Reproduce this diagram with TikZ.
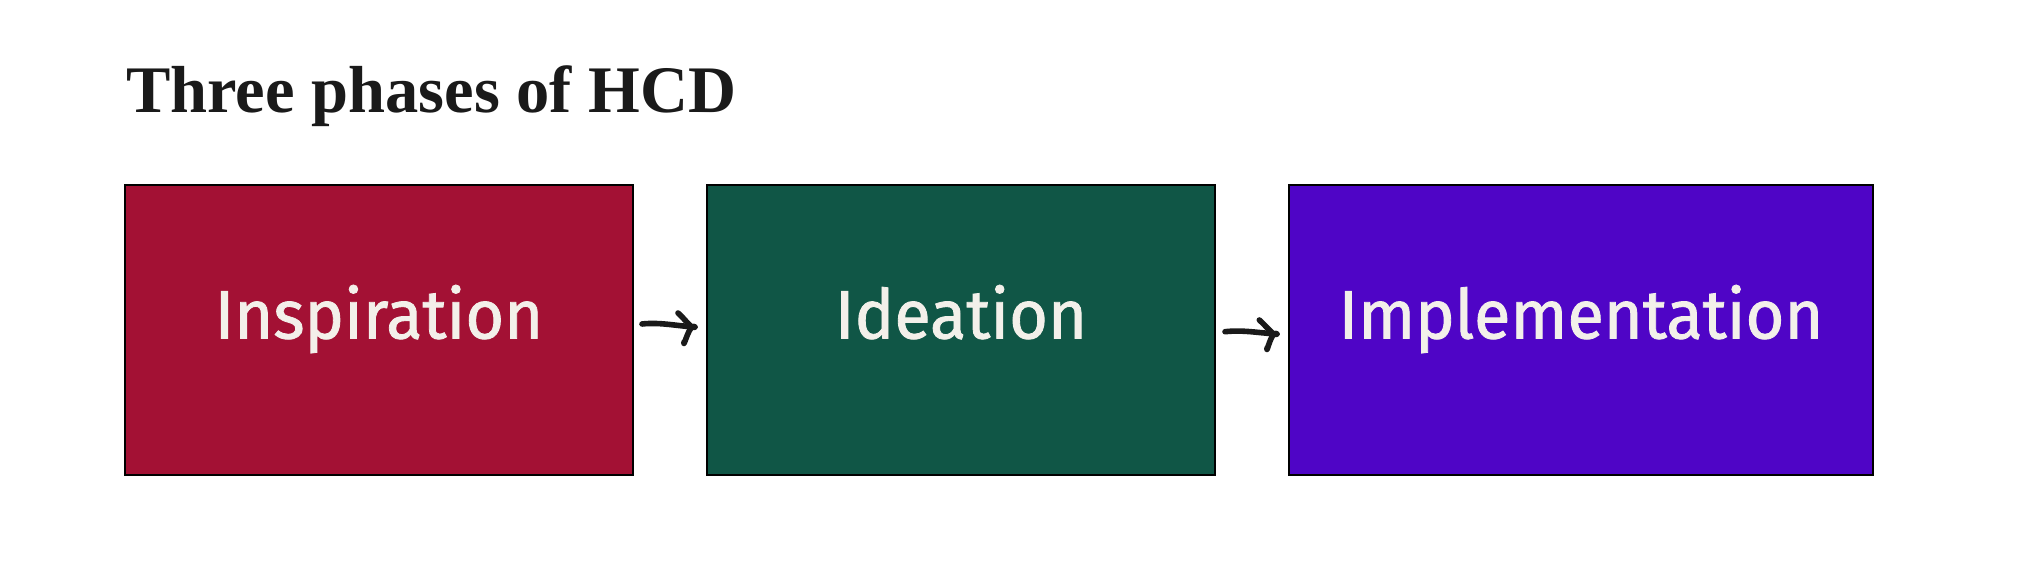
\documentclass[tikz,border=0pt]{standalone}
\usepackage{fontspec}
\setmainfont{Liberation Serif}
\newfontfamily\phasefont{Fira Sans}[FakeBold=1.2,FakeStretch=0.97]
\usetikzlibrary{positioning}
\definecolor{inkblack}{HTML}{1A1A1A}
\definecolor{insred}{HTML}{A31134}
\definecolor{ideagreen}{HTML}{105646}
\definecolor{implpurple}{HTML}{4F05C6}
\definecolor{chalk}{HTML}{F3F0EA}
\tikzset{
  phase/.style={draw=black, line width=2pt, minimum height=290pt,
    text=chalk, font=\phasefont\fontsize{68.7}{80}\selectfont,
    text height=50pt, text depth=33pt, inner sep=0pt},
  sketch/.style={draw=inkblack, line width=5.6pt, line cap=round, line join=round}
}
\begin{document}
\begin{tikzpicture}[x=1pt,y=-1pt]
   \useasboundingbox (0,0) rectangle (2020,562);
   % title
   \node[anchor=base west, inner sep=0pt, text=inkblack,
         font=\bfseries\fontsize{66.5}{70}\selectfont] (title) at (126,112) {Three phases of HCD};
   % the three phases
   \node[phase, fill=insred, minimum width=508pt] (insp) at (379,330) {Inspiration};
   \node[phase, fill=ideagreen, minimum width=508pt, right=72pt of insp] (idea) {Ideation};
   \node[phase, fill=implpurple, minimum width=584pt, right=72pt of idea] (impl) {Implementation};
   % hand drawn arrows
   \draw[sketch] ([xshift=8pt,yshift=6pt]insp.east) .. controls +(18,-2) and +(-18,-1) .. ([xshift=-11pt,yshift=3pt]idea.west);
   \draw[sketch] ([xshift=-28pt,yshift=17pt]idea.west) .. controls +(7,6) and +(-3,3) .. ([xshift=-11pt,yshift=3pt]idea.west)
                 .. controls +(-5,-6) and +(-1,8) .. ([xshift=-22pt,yshift=-12pt]idea.west);
   \draw[sketch] ([xshift=9pt,yshift=-1.7pt]idea.east) .. controls +(18,-2) and +(-18,-1) .. ([xshift=-11pt,yshift=-4pt]impl.west);
   \draw[sketch] ([xshift=-28.7pt,yshift=10pt]impl.west) .. controls +(7,6) and +(-3,3) .. ([xshift=-11pt,yshift=-4pt]impl.west)
                 .. controls +(-5,-6) and +(-1,8) .. ([xshift=-21pt,yshift=-18pt]impl.west);
\end{tikzpicture}
\end{document}
